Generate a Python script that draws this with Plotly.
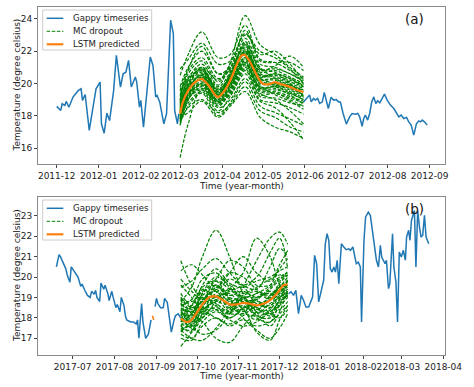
import pandas as pd
import plotly.graph_objects as go

# ---------------- Panel (a) data ----------------
a_start = "2011-12-01"
a_blue1_days = [0, 3, 4, 6, 7, 9, 12, 16, 18, 19, 21, 24, 27, 29, 32, 33, 35, 37, 39, 42,
                44, 46, 47, 49, 51, 53, 54, 55, 58, 59, 61, 62, 64, 66, 69, 71, 73, 74, 76, 79,
                81, 84, 86, 87, 89, 90]
a_blue1_vals = [18.58, 18.33, 18.74, 18.64, 18.89, 18.53, 19.16, 19.57, 19.67, 18.95,
                19.32, 17.09, 18.64, 19.67, 20.09, 17.5, 16.92, 18.16, 17.7, 19.57,
                21.75, 20.6, 19.78, 20.6, 20.7, 21.43, 20.4, 19.78, 20.4, 20.09,
                18.53, 18.95, 17.29, 19.16, 21.64, 21.12, 19.16, 19.26, 18.84, 17.5,
                18.12, 23.92, 23.09, 18.33, 17.5, 18.12]
a_blue2_days = [182, 184.6, 186.5, 187.7, 189.4, 190.7, 192.4, 193.9, 195.9, 197.3,
                198.8, 200.3, 202.3, 204.2, 206.2, 207.9, 209.2, 211.2, 213.6, 216,
                217.8, 220.3, 222, 223.4, 225.2, 226.4, 227.6, 229.3, 230.8, 232.3,
                233.8, 235.3, 236.7, 238.2, 240, 241.7, 243.7, 246.1, 248.6, 250.6,
                252.3, 254, 256, 258, 259.6, 261.4, 263.3, 265.3, 267, 268.3,
                269.5, 271.2, 273.2]
a_blue2_vals = [18.86, 19.07, 19.28, 18.86, 19.07, 18.97, 19.07, 18.76, 18.86, 19.45,
                18.97, 18.45, 19.14, 18.97, 19.0, 18.86, 18.86, 18.14, 17.48, 17.93,
                18.14, 18.1, 18.14, 17.93, 17.35, 17.83, 18.04, 17.73, 18.14, 18.86,
                19.17, 18.76, 18.93, 18.8, 19.07, 19.34, 18.97, 18.66, 18.45, 18.14,
                17.93, 18.04, 17.83, 17.9, 17.62, 17.42, 16.8, 17.52, 17.68, 17.62,
                17.73, 17.62, 17.42]
a_lstm_days = [91, 93, 97, 102, 107, 112, 117, 119, 123, 128, 133, 136.5, 139, 142.6,
               147.6, 151.3, 156, 161, 166, 172, 178, 182]
a_lstm_vals = [18.12, 18.84, 19.57, 20.09, 20.29, 19.88, 19.26, 19.16, 19.47, 20.19, 21.22,
               21.75, 21.75, 21.33, 20.5, 20.02, 19.94, 20.09, 19.94, 19.78, 19.57, 19.47]
a_mc_days = [91, 97, 107, 119, 128, 139, 150, 161, 172, 182]
a_mc_samples = [
    [18.0, 19.4, 20.1, 19.0, 19.9, 21.5, 20.0, 19.9, 19.6, 19.2],
    [18.6, 20.0, 20.8, 19.6, 20.6, 22.3, 20.6, 20.5, 20.2, 19.9],
    [17.6, 19.0, 19.8, 18.6, 19.5, 21.0, 19.5, 19.4, 19.1, 18.8],
    [19.2, 20.6, 21.4, 20.1, 21.0, 22.8, 21.2, 21.0, 20.6, 20.2],
    [17.9, 18.8, 19.5, 18.3, 19.2, 20.6, 19.0, 18.8, 18.5, 18.1],
    [20.5, 21.8, 23.2, 21.6, 21.8, 23.6, 21.5, 21.3, 20.8, 20.3],
    [15.4, 17.5, 19.6, 19.0, 20.0, 21.9, 20.3, 20.0, 19.7, 19.3],
    [18.3, 19.9, 21.0, 20.2, 21.2, 23.0, 22.0, 21.6, 20.9, 20.0],
    [17.5, 18.6, 19.4, 18.0, 18.8, 20.1, 18.6, 18.2, 17.8, 17.4],
    [18.8, 20.3, 21.2, 19.9, 21.3, 24.2, 22.4, 21.8, 21.0, 20.4],
    [18.2, 19.3, 19.9, 18.8, 19.6, 21.2, 19.4, 19.0, 18.3, 17.5],
    [19.8, 21.0, 22.0, 20.6, 21.0, 22.2, 20.4, 20.6, 20.3, 19.9],
    [17.8, 19.6, 20.6, 19.3, 20.3, 22.0, 20.3, 20.2, 19.8, 19.6],
    [18.4, 19.1, 19.6, 18.5, 19.0, 20.3, 18.9, 18.5, 17.6, 16.5],
    [20.9, 21.5, 22.5, 21.2, 21.4, 23.1, 21.8, 22.0, 21.2, 20.2],
    [17.7, 18.5, 19.0, 18.2, 18.7, 19.8, 18.3, 17.9, 17.3, 17.0],
    [18.9, 20.2, 20.9, 19.4, 20.5, 21.8, 20.5, 20.6, 20.3, 19.8],
    [19.0, 20.9, 22.3, 20.6, 20.8, 22.6, 20.9, 20.7, 20.0, 19.2],
    [18.1, 19.2, 20.4, 19.2, 20.6, 22.4, 21.0, 20.3, 19.9, 19.6],
    [19.5, 20.4, 21.0, 19.5, 20.1, 21.3, 19.7, 19.6, 19.4, 19.0],
    [17.4, 19.0, 20.0, 18.9, 19.7, 21.1, 19.8, 19.7, 19.3, 18.7],
    [18.5, 19.8, 20.5, 19.3, 20.0, 21.6, 19.9, 19.3, 18.9, 18.4],
    [19.6, 20.8, 21.6, 20.3, 20.9, 23.3, 21.4, 21.3, 21.3, 20.8],
    [18.7, 19.7, 20.2, 18.9, 19.3, 20.8, 19.2, 19.1, 18.8, 18.6],
    [17.9, 18.2, 18.9, 17.9, 18.6, 19.5, 17.9, 17.3, 17.0, 16.6],
    [19.3, 20.3, 20.8, 19.7, 20.4, 22.0, 20.8, 21.1, 21.7, 21.0],
    [18.3, 19.7, 20.5, 19.4, 20.3, 21.9, 20.3, 20.3, 20.0, 19.7],
    [17.9, 19.3, 20.0, 18.9, 19.8, 21.4, 19.7, 19.8, 19.5, 19.1],
    [18.5, 19.9, 20.7, 19.5, 20.4, 22.1, 20.5, 20.4, 20.1, 19.8],
    [18.2, 19.6, 20.3, 19.1, 20.2, 21.6, 20.1, 19.9, 19.7, 19.3],
    [17.8, 19.2, 19.9, 18.8, 19.7, 21.2, 19.6, 19.5, 19.2, 18.9],
    [18.8, 19.8, 20.4, 19.3, 20.1, 22.0, 20.7, 20.8, 20.4, 20.0],
    [17.7, 19.4, 20.3, 19.2, 19.9, 21.3, 19.8, 19.8, 19.4, 19.0],
    [18.4, 19.5, 20.6, 19.6, 20.5, 22.4, 20.2, 20.0, 19.9, 19.5],
    [18.0, 19.1, 19.7, 18.7, 19.4, 20.9, 19.3, 19.4, 19.0, 18.6],
    [19.0, 20.1, 20.9, 19.8, 20.7, 22.5, 20.9, 20.9, 20.6, 20.1],
]

# ---------------- Panel (b) data ----------------
b_start = "2017-07-01"
b_blue1_days = [-12, -10, -9, -7, -5, -4, -2, -1, 1, 3, 4, 6, 7, 9, 11, 13, 14, 16, 17, 18,
                20, 21, 23, 24, 26, 27, 29, 30, 32, 33, 35, 36, 38, 39, 40, 43, 45, 47, 48, 49,
                51, 52, 54, 56, 58]
b_blue1_vals = [20.5, 21.1, 21.0, 20.7, 20.4, 20.1, 19.75, 20.5, 20.3, 20.1,
                20.0, 19.55, 19.65, 19.35, 19.1, 19.0, 19.3, 19.15, 19.35, 19.0,
                18.8, 19.7, 19.4, 19.6, 19.2, 18.85, 19.3, 19.0, 18.5, 18.65,
                18.3, 19.0, 18.6, 18.1, 17.9, 17.8, 17.8, 17.7, 17.9, 17.0,
                18.7, 17.8, 17.0, 17.2, 17.9]
b_gapfill_days = [59, 60]
b_gapfill_vals = [18.1, 17.9]
b_blue2_days = [61, 62, 63, 65, 67, 68, 70, 71, 73, 75, 76, 78, 80]
b_blue2_vals = [18.55, 18.95, 18.7, 18.5, 18.5, 18.95, 18.75, 18.3, 17.3, 17.9, 18.1, 18.2, 18.0]
b_blue3_days = [159.6, 161.5, 163.3, 165, 167, 169, 170.7, 172.5, 174.5, 176.4,
                177.4, 178.9, 180.4, 181.9, 183.1, 184.4, 185.6, 186.8, 188.1, 189.4,
                190.5, 191.8, 193.1, 194.3, 195.6, 196.8, 198.7, 200.5, 202.2, 204.2,
                205.4, 207.2, 208.7, 209.7, 211.2, 212.7, 213.6, 215.4, 216.6, 218.6,
                220.1, 221.6, 223.1, 224.6, 226.1, 227.5, 228.5, 229.8, 231, 232,
                233.5, 234.5, 235.5, 236.5, 237.5, 239, 240.2, 241.5, 243, 244.5,
                246, 246.9, 248.4, 249.4, 250.5, 251.4, 252.7, 253.8, 255.1, 256.4,
                257.6, 258.8, 260.1, 261.3, 263.3]
b_blue3_vals = [19.18, 19.27, 19.1, 19.35, 18.2, 19.1, 18.86, 18.53, 18.53, 18.86,
                19.02, 21.06, 20.65, 18.78, 19.1, 19.43, 19.84, 21.63, 22.12, 21.8,
                20.41, 20.24, 20.49, 20.24, 20.82, 19.67, 21.63, 21.47, 21.34, 21.38,
                21.31, 21.47, 21.06, 20.65, 20.73, 20.49, 17.8, 21.8, 22.94, 23.18,
                23.02, 22.29, 21.8, 20.82, 20.49, 21.55, 20.98, 20.82, 20.65, 20.82,
                19.43, 19.67, 20.82, 22.12, 20.49, 19.76, 17.8, 21.22, 20.98, 21.31,
                20.82, 21.96, 22.29, 21.8, 22.77, 23.02, 23.26, 20.49, 23.26, 22.45,
                21.96, 22.04, 23.02, 21.96, 21.63]
b_lstm_days = [80.1, 83.8, 87.6, 91.3, 96.3, 101.2, 106.2, 111.2, 116.1, 121.1, 126.1,
               131, 136, 141, 145.9, 150.9, 155.8, 159]
b_lstm_vals = [17.96, 17.8, 17.88, 18.2, 18.69, 19.02, 19.05, 18.86, 18.66, 18.66, 18.73,
               18.69, 18.61, 18.69, 18.86, 19.18, 19.59, 19.64]
b_mc_days = [80, 88, 96, 106, 116, 126, 136, 146, 153, 159]
b_mc_samples = [
    [18.0, 17.9, 18.6, 19.0, 18.7, 18.8, 18.6, 18.9, 19.3, 19.6],
    [18.5, 18.3, 19.2, 19.6, 19.1, 19.3, 19.0, 19.4, 19.9, 20.1],
    [17.5, 17.4, 18.1, 18.5, 18.2, 18.2, 18.1, 18.3, 18.8, 19.1],
    [19.2, 18.6, 19.6, 20.4, 19.7, 19.5, 19.8, 20.0, 20.3, 20.5],
    [17.2, 17.0, 17.6, 18.0, 17.6, 17.9, 17.6, 17.8, 18.2, 18.6],
    [18.8, 19.5, 21.0, 22.3, 21.0, 19.2, 18.3, 17.6, 18.3, 19.4],
    [16.6, 17.3, 18.2, 18.9, 19.2, 18.4, 17.9, 18.4, 19.0, 19.2],
    [20.8, 19.6, 19.0, 19.4, 20.2, 20.0, 19.4, 19.0, 19.5, 20.0],
    [17.8, 18.6, 19.5, 19.8, 18.9, 18.0, 17.4, 17.0, 17.5, 18.2],
    [18.3, 17.6, 17.2, 17.4, 18.2, 19.5, 20.8, 21.9, 22.2, 21.6],
    [19.6, 19.0, 18.4, 18.6, 19.4, 20.2, 21.9, 21.0, 19.6, 19.0],
    [17.4, 17.0, 16.9, 17.5, 18.4, 19.0, 18.9, 18.2, 18.0, 18.4],
    [18.6, 18.9, 19.9, 20.2, 19.5, 19.0, 19.2, 19.6, 20.4, 20.9],
    [19.0, 18.2, 17.8, 17.0, 16.8, 17.6, 18.3, 18.9, 19.3, 19.5],
    [17.9, 17.6, 18.9, 19.3, 18.4, 18.6, 18.2, 18.7, 19.0, 19.3],
    [20.3, 20.6, 20.1, 19.5, 20.2, 21.0, 20.2, 19.8, 20.6, 21.3],
    [18.1, 18.5, 18.4, 18.9, 18.3, 18.4, 17.3, 16.9, 17.9, 18.6],
    [17.0, 16.9, 17.8, 18.3, 17.9, 17.6, 17.8, 18.3, 18.6, 19.0],
    [18.9, 18.0, 19.2, 19.9, 20.8, 20.5, 19.6, 19.6, 20.0, 20.2],
    [17.6, 18.2, 18.8, 18.6, 18.0, 18.5, 18.9, 19.3, 19.2, 19.8],
    [19.5, 19.8, 20.4, 20.9, 20.2, 19.6, 19.4, 20.5, 21.4, 21.0],
    [18.4, 17.8, 18.3, 18.0, 17.7, 18.1, 18.6, 18.5, 18.4, 18.8],
    [17.3, 17.8, 18.0, 18.8, 19.4, 19.0, 18.5, 18.1, 18.9, 19.7],
    [18.7, 18.4, 19.1, 19.4, 18.8, 19.1, 19.3, 19.1, 19.7, 20.1],
    [19.9, 19.3, 18.9, 19.2, 19.9, 19.6, 20.0, 21.2, 21.9, 20.4],
    [18.2, 17.5, 18.5, 19.6, 19.0, 18.8, 18.0, 17.8, 18.7, 19.2],
    [18.2, 18.1, 18.9, 19.3, 18.5, 18.9, 18.4, 19.1, 19.5, 19.8],
    [17.7, 17.6, 18.4, 18.8, 18.9, 18.5, 18.8, 18.6, 19.1, 19.4],
    [18.4, 18.3, 18.3, 19.5, 18.9, 18.3, 19.0, 19.2, 19.0, 19.9],
    [17.8, 18.2, 19.0, 18.7, 18.3, 19.0, 18.3, 18.5, 19.6, 19.5],
    [19.0, 18.5, 18.8, 19.8, 19.4, 18.9, 18.9, 19.5, 19.8, 20.3],
    [17.4, 17.7, 18.5, 18.4, 18.0, 18.4, 18.5, 18.2, 18.9, 19.1],
    [18.7, 17.9, 19.4, 19.0, 19.3, 19.5, 18.7, 19.0, 19.5, 19.6],
    [17.9, 18.6, 18.2, 19.1, 18.6, 18.2, 19.2, 18.9, 19.2, 19.9],
    [18.9, 18.8, 19.3, 20.0, 19.6, 19.2, 19.5, 19.9, 20.1, 20.0],
    [17.6, 17.3, 18.0, 18.4, 18.2, 19.0, 18.1, 18.0, 18.6, 19.3],
]

legend_labels = ["Gappy timeseries", "MC dropout", "LSTM predicted"]

# ---------------- styling ----------------
BLUE = "#1f77b4"
ORANGE = "#ff7f0e"
GREEN = "#008000"
FONT = "DejaVu Sans"
TXT = "#222222"
MC_DASH = "3.5px,1.6px"

W, H = 474, 387
L, R, T, B = 38, 29, 7, 32


def px(xp):
    return (xp - L) / (W - L - R)


def py(yp):
    return (H - B - yp) / (H - T - B)


def dates(start, days):
    return pd.Timestamp(start) + pd.to_timedelta(days, unit="D")


fig = go.Figure()


def add_panel(start, blues, gapfills, mc_days, mc_samples, lstm_days, lstm_vals, xa, ya):
    for d, v in blues:
        fig.add_trace(go.Scatter(
            x=dates(start, d), y=v, mode="lines", name=legend_labels[0],
            line=dict(color=BLUE, width=1.5), showlegend=False, xaxis=xa, yaxis=ya))
    for s in mc_samples:
        fig.add_trace(go.Scatter(
            x=dates(start, mc_days), y=s, mode="lines", name=legend_labels[1],
            line=dict(color=GREEN, width=1.2, dash=MC_DASH, shape="spline", smoothing=1.0),
            showlegend=False, xaxis=xa, yaxis=ya))
    fig.add_trace(go.Scatter(
        x=dates(start, lstm_days), y=lstm_vals, mode="lines", name=legend_labels[2],
        line=dict(color=ORANGE, width=2.2, shape="spline", smoothing=0.6),
        showlegend=False, xaxis=xa, yaxis=ya))
    for d, v in gapfills:
        fig.add_trace(go.Scatter(
            x=dates(start, d), y=v, mode="lines", name=legend_labels[2],
            line=dict(color=ORANGE, width=1.5), showlegend=False, xaxis=xa, yaxis=ya))


add_panel(a_start, [(a_blue1_days, a_blue1_vals), (a_blue2_days, a_blue2_vals)], [],
          a_mc_days, a_mc_samples, a_lstm_days, a_lstm_vals, "x", "y")
add_panel(b_start, [(b_blue1_days, b_blue1_vals), (b_blue2_days, b_blue2_vals),
                    (b_blue3_days, b_blue3_vals)],
          [(b_gapfill_days, b_gapfill_vals)],
          b_mc_days, b_mc_samples, b_lstm_days, b_lstm_vals, "x2", "y2")

axis_common = dict(showgrid=False, zeroline=False, showline=True, mirror=True,
                   linecolor="#8a8a8a", linewidth=1, ticks="outside", ticklen=3,
                   tickcolor="#444444", tickwidth=1, tickangle=0, automargin=False,
                   tickfont=dict(family=FONT, size=9, color=TXT))

fig.update_layout(
    template="none",
    width=W, height=H, autosize=False,
    margin=dict(l=L, r=R, t=T, b=B),
    paper_bgcolor="white", plot_bgcolor="white",
    font=dict(family=FONT, size=9, color=TXT),
    showlegend=False,
    xaxis=dict(domain=[0, 1], anchor="y", range=["2011-11-17 05:00", "2012-09-12 08:00"],
               tickformat="%Y-%m", dtick="M1", tick0="2011-12-01", **axis_common),
    yaxis=dict(domain=[py(164), 1], anchor="x", range=[15.01, 24.74], dtick=2, tick0=16,
               **axis_common),
    xaxis2=dict(domain=[0, 1], anchor="y2", range=["2017-06-05 10:00", "2018-04-02 07:00"],
                tickformat="%Y-%m", dtick="M1", tick0="2017-07-01", **axis_common),
    yaxis2=dict(domain=[0, py(197)], anchor="x2", range=[16.18, 23.92], dtick=1, tick0=17,
                **axis_common),
)


def text(t, xp, yp, size=9, angle=0, xanchor="center", color=TXT):
    fig.add_annotation(text=t, xref="paper", yref="paper", x=px(xp), y=py(yp),
                       xanchor=xanchor, yanchor="middle", textangle=angle,
                       showarrow=False, font=dict(family=FONT, size=size, color=color))


for top, bottom, tag in [(7, 164, "(a)"), (197, 355, "(b)")]:
    text("Temperature (degree celsius)", 17, (top + bottom) / 2, angle=-90)
    text("Time (year-month)", 241.5, bottom + 21.5)
    text(tag, 414, top + 11.5, size=13.5, color="#111111")
    # legend box
    fig.add_shape(type="rect", xref="paper", yref="paper",
                  x0=px(42.7), x1=px(151.7), y0=py(top + 3), y1=py(top + 43),
                  line=dict(color="#cccccc", width=1), fillcolor="rgba(255,255,255,0.85)")
    styles = [dict(color=BLUE, width=1.5), dict(color=GREEN, width=1, dash=MC_DASH),
              dict(color=ORANGE, width=2.2)]
    for i, (lab, st) in enumerate(zip(legend_labels, styles)):
        yy = top + 11.3 + i * 13
        fig.add_shape(type="line", xref="paper", yref="paper",
                      x0=px(46.7), x1=px(63.3), y0=py(yy), y1=py(yy), line=st)
        text(lab, 70.5, yy, size=8.6, xanchor="left")

fig.write_html("out.html", config={"displayModeBar": False},
               post_script="document.body.style.margin='0';document.body.style.padding='0';")
